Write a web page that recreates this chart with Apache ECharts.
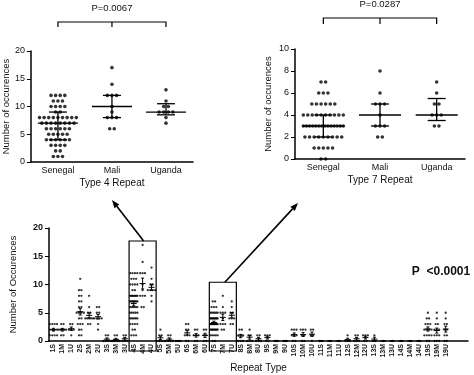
<!DOCTYPE html>
<html>
<head>
<meta charset="utf-8">
<script src="https://cdn.jsdelivr.net/npm/echarts@6/dist/echarts.min.js"></script>
<style>
  html, body { margin: 0; background: #fff; }
  #main { width: 474px; height: 375px; }
</style>
</head>
<body>
<div id="main"></div>
<script>
// ---- top charts: countries ----
const countries = ['Senegal', 'Mali', 'Uganda']

// Type 4 repeat, number of occurences per isolate
const t4Senegal = [12, 12, 12, 12, 11, 11, 11, 10, 10, 10, 10, 9, 9,
  8, 8, 8, 8, 8, 8, 8, 8, 8, 7, 7, 7, 7, 7, 7, 7, 7, 6, 6, 6, 6, 6, 6,
  5, 5, 5, 5, 5, 4, 4, 4, 4, 4, 4, 3, 3, 3, 3, 2, 2, 1, 1, 1]
const t4Mali = [17, 14, 12, 12, 12, 10, 9, 8, 8, 8, 6, 6]
const t4Uganda = [13, 11, 10, 10, 9, 9, 9, 9, 8, 7]
const t4Mid = [7, 10, 9]
const t4Low = [4, 8, 8.5]
const t4High = [9, 12, 10.5]

// Type 7 repeat
const t7Senegal = [7, 7, 6, 6, 6, 5, 5, 5, 5, 5, 5, 4, 4, 4, 4, 4, 4, 4, 4, 4, 4,
  3, 3, 3, 3, 3, 3, 3, 3, 3, 3, 3, 3, 3, 3, 2, 2, 2, 2, 2, 2, 2, 2, 2,
  1, 1, 1, 1, 1, 0, 0]
const t7Mali = [8, 6, 5, 5, 5, 4, 3, 3, 3, 2, 2]
const t7Uganda = [7, 6, 5, 5, 4, 4, 4, 3, 3]
const t7Mid = [3, 4, 4]
const t7Low = [2, 3, 3.5]
const t7High = [4, 5, 5.5]

// ---- bottom chart: every repeat type ----
const repeatTypes = ['1S', '1M', '1U', '2S', '2M', '2U', '3S', '3M', '3U',
  '4S', '4M', '4U', '5S', '5M', '5U', '6S', '6M', '6U', '7S', '7M', '7U',
  '8S', '8M', '8U', '9S', '9M', '9U', '10S', '10M', '10U', '11S', '11M', '11U',
  '12S', '12M', '12U', '13S', '13M', '13U', '14S', '14M', '14U', '19S', '19M', '19U']
const repeatValues = [
  [3, 3, 3, 3, 2, 2, 2, 2, 1, 1, 1, 1],          // 1S
  [3, 3, 2, 2, 2, 2, 2, 1, 1],                   // 1M
  [3, 3, 2, 2, 2, 1],                            // 1U
  [11, 9, 9, 8, 8, 7, 7, 6, 6, 5, 5, 5, 5, 4, 4, 3, 3, 3, 2, 2, 1, 1], // 2S
  [8, 6, 5, 5, 4, 4, 4, 4, 4, 3, 3],             // 2M
  [6, 6, 5, 5, 4, 4, 4, 4, 3, 2],                // 2U
  [1, 1, 0, 0, 0, 0],                            // 3S
  [1, 1, 0, 0, 0, 0, 0],                         // 3M
  [1, 1, 0, 0, 0],                               // 3U
  t4Senegal, t4Mali, t4Uganda,                   // 4S 4M 4U
  [2, 1, 1, 0, 0, 0, 0],                         // 5S
  [1, 1, 0, 0, 0, 0],                            // 5M
  [0, 0, 0],                                     // 5U
  [3, 3, 2, 2, 1, 1, 1, 0, 0],                   // 6S
  [2, 2, 1, 1, 1, 0, 0],                         // 6M
  [2, 2, 1, 1, 0, 0],                            // 6U
  t7Senegal, t7Mali, t7Uganda,                   // 7S 7M 7U
  [2, 2, 1, 1, 1, 0, 0, 0],                      // 8S
  [2, 1, 1, 0, 0, 0],                            // 8M
  [1, 1, 0, 0, 0],                               // 8U
  [1, 1, 1, 0, 0],                               // 9S
  [0, 0],                                        // 9M
  [0, 0],                                        // 9U
  [2, 2, 2, 1, 1, 1, 0, 0],                      // 10S
  [2, 2, 2, 1, 1, 0, 0],                         // 10M
  [2, 2, 1, 1, 0],                               // 10U
  [0, 0], [0], [0],                              // 11S 11M 11U
  [1, 0, 0, 0],                                  // 12S
  [1, 1, 0, 0, 0],                               // 12M
  [1, 1, 1, 0, 0],                               // 12U
  [1, 0, 0],                                     // 13S
  [0], [0], [0], [0], [0],                       // 13M 13U 14S 14M 14U
  [5, 4, 4, 3, 3, 3, 2, 2, 2, 2, 1, 1, 1, 1, 0, 0], // 19S
  [5, 4, 3, 3, 2, 2, 2, 1, 1, 1, 0, 0, 0],       // 19M
  [5, 4, 3, 3, 2, 2, 1, 1, 0, 0]                 // 19U
]

const FONT = 'Liberation Sans, Arial, sans-serif'
const INK = '#111'

// spread dots that share a value side by side
function dotData(groups, spacing, maxW) {
  const out = []
  groups.forEach((vals, ci) => {
    const counts = {}
    vals.forEach(v => { counts[v] = (counts[v] || 0) + 1 })
    const seen = {}
    vals.forEach(v => {
      const n = counts[v]
      const k = seen[v] || 0
      seen[v] = k + 1
      let s = spacing
      if (maxW && n > 1) s = Math.min(spacing, maxW / (n - 1))
      out.push({ value: [ci, v], symbolOffset: [(k - (n - 1) / 2) * s, 0] })
    })
  })
  return out
}

function meanSem(vals) {
  const n = vals.length
  const m = vals.reduce((a, b) => a + b, 0) / n
  if (n < 2) return [m, m, m]
  const sd = Math.sqrt(vals.reduce((a, b) => a + (b - m) * (b - m), 0) / (n - 1))
  const se = sd / Math.sqrt(n)
  return [m, m - se, m + se]
}

function barRenderer(meanW, capW, lw) {
  return function (params, api) {
    const x = api.value(0)
    const m = api.coord([x, api.value(1)])
    const lo = api.coord([x, api.value(2)])
    const hi = api.coord([x, api.value(3)])
    const st = { stroke: '#000', lineWidth: lw }
    return {
      type: 'group',
      children: [
        { type: 'line', shape: { x1: m[0] - meanW / 2, y1: m[1], x2: m[0] + meanW / 2, y2: m[1] }, style: st },
        { type: 'line', shape: { x1: lo[0], y1: lo[1], x2: hi[0], y2: hi[1] }, style: st },
        { type: 'line', shape: { x1: lo[0] - capW / 2, y1: lo[1], x2: lo[0] + capW / 2, y2: lo[1] }, style: st },
        { type: 'line', shape: { x1: hi[0] - capW / 2, y1: hi[1], x2: hi[0] + capW / 2, y2: hi[1] }, style: st }
      ]
    }
  }
}

function catAxis(gi, data, name, nameGap, extra) {
  return Object.assign({
    type: 'category', gridIndex: gi, data: data,
    name: name, nameLocation: 'middle', nameGap: nameGap,
    nameTextStyle: { fontFamily: FONT, fontSize: 10, color: INK },
    axisLine: { lineStyle: { color: '#000', width: 1.5 } },
    axisTick: { alignWithLabel: true, length: 3, lineStyle: { color: '#000' } },
    axisLabel: { fontFamily: FONT, fontSize: 9, color: INK, margin: 4, interval: 0 },
    splitLine: { show: false }
  }, extra || {})
}

function valAxis(gi, max, interval, name, nameGap, extra) {
  return Object.assign({
    type: 'value', gridIndex: gi, min: 0, max: max, interval: interval,
    name: name, nameLocation: 'middle', nameGap: nameGap,
    nameTextStyle: { fontFamily: FONT, fontSize: 9.5, color: INK },
    axisLine: { show: true, lineStyle: { color: '#000', width: 1.5 } },
    axisTick: { show: true, length: 4, lineStyle: { color: '#000' } },
    axisLabel: { fontFamily: FONT, fontSize: 9, color: INK, margin: 6 },
    splitLine: { show: false }
  }, extra || {})
}

const t4Bars = countries.map((c, i) => [i, t4Mid[i], t4Low[i], t4High[i]])
const t7Bars = countries.map((c, i) => [i, t7Mid[i], t7Low[i], t7High[i]])
const repeatBars = repeatValues.map((vals, i) => [i].concat(meanSem(vals)))
const repeatAxisData = repeatTypes.concat(['', ''])

const chart = echarts.init(document.getElementById('main'))
chart.setOption({
  backgroundColor: '#fff',
  animation: false,
  grid: [
    { left: 30, top: 51, width: 163, height: 111 },
    { left: 295, top: 49, width: 170, height: 110 },
    { left: 40, top: 228, width: 428, height: 113 }
  ],
  xAxis: [
    catAxis(0, countries, 'Type 4 Repeat', 16),
    catAxis(1, countries, 'Type 7 Repeat', 16),
    catAxis(2, repeatAxisData, 'Repeat Type', 22, {
      axisTick: { alignWithLabel: true, length: 3, lineStyle: { color: '#000' },
        interval: (i, v) => v !== '' },
      axisLabel: { fontFamily: FONT, fontSize: 7, fontWeight: 'bold', color: INK,
        margin: 3, interval: 0, rotate: 90 }
    })
  ],
  yAxis: [
    valAxis(0, 20, 5, 'Number of occurences', 19),
    valAxis(1, 10, 2, 'Number of occurences', 22),
    valAxis(2, 20, 5, 'Number of Occurences', 31, {
      axisLabel: { fontFamily: FONT, fontSize: 9, fontWeight: 'bold', color: INK, margin: 6 }
    })
  ],
  series: [
    { type: 'scatter', xAxisIndex: 0, yAxisIndex: 0, symbolSize: 3.6,
      itemStyle: { color: '#000' }, data: dotData([t4Senegal, t4Mali, t4Uganda], 4.6, 40) },
    { type: 'custom', xAxisIndex: 0, yAxisIndex: 0, renderItem: barRenderer(40, 18, 1.3),
      data: t4Bars, z: 3 },
    { type: 'scatter', xAxisIndex: 1, yAxisIndex: 1, symbolSize: 3.6,
      itemStyle: { color: '#000' }, data: dotData([t7Senegal, t7Mali, t7Uganda], 4.6, 40) },
    { type: 'custom', xAxisIndex: 1, yAxisIndex: 1, renderItem: barRenderer(42, 18, 1.3),
      data: t7Bars, z: 3 },
    { type: 'scatter', xAxisIndex: 2, yAxisIndex: 2, symbolSize: 2.3,
      itemStyle: { color: '#000' }, data: dotData(repeatValues, 2.4, 7.5) },
    { type: 'custom', xAxisIndex: 2, yAxisIndex: 2, renderItem: barRenderer(6, 3, 1),
      data: repeatBars, z: 3 }
  ]
})

// annotations: brackets, boxes, arrows and p-values
const px = (gi, pt) => chart.convertToPixel({ xAxisIndex: gi, yAxisIndex: gi }, pt)

function bracket(gi, y, drop) {
  const a = px(gi, [0, 0])[0], b = px(gi, [1, 0])[0], c = px(gi, [2, 0])[0]
  const st = { stroke: '#000', lineWidth: 1.2, fill: null }
  return [
    { type: 'polyline', shape: { points: [[a, y + drop], [a, y], [c, y], [c, y + drop]] }, style: st },
    { type: 'line', shape: { x1: b, y1: y, x2: b, y2: y + drop }, style: st }
  ]
}

function box(first, last, topVal) {
  const l = px(2, [first, topVal])
  const r = px(2, [last, 0])
  const half = 4.6
  return { type: 'rect', shape: { x: l[0] - half, y: l[1], width: r[0] - l[0] + 2 * half, height: r[1] + 10 - l[1] },
    style: { stroke: '#000', lineWidth: 1.2, fill: null } }
}

function arrow(x1, y1, x2, y2) {
  const len = Math.hypot(x2 - x1, y2 - y1)
  const ux = (x2 - x1) / len, uy = (y2 - y1) / len
  const L = 8, W = 6
  const bx = x2 - ux * L, by = y2 - uy * L
  return [
    { type: 'line', shape: { x1: x1, y1: y1, x2: bx, y2: by }, style: { stroke: '#000', lineWidth: 1.6 } },
    { type: 'polygon', shape: { points: [[x2, y2], [bx - uy * W / 2, by + ux * W / 2], [bx + uy * W / 2, by - ux * W / 2]] },
      style: { fill: '#000' } }
  ]
}

const i4S = repeatTypes.indexOf('4S'), i4M = repeatTypes.indexOf('4M'), i4U = repeatTypes.indexOf('4U')
const i7S = repeatTypes.indexOf('7S'), i7M = repeatTypes.indexOf('7M'), i7U = repeatTypes.indexOf('7U')
const box4Top = px(2, [i4M, 17.7])
const box7Top = px(2, [i7M, 10.4])
const maliTop = px(0, [1, 0])

const tl = px(0, [1, 0])[0]
const tr = px(1, [1, 0])[0]

const graphics = [].concat(
  bracket(0, 22, 5),
  bracket(1, 18, 6),
  [box(i4S, i4U, 17.7), box(i7S, i7U, 10.4)],
  arrow(box4Top[0] + 1, box4Top[1], maliTop[0], 200),
  arrow(box7Top[0] + 2, box7Top[1], 298, 203),
  [
    { type: 'text', x: tl, y: 8, style: { text: 'P=0.0067', font: '9.5px ' + FONT, fill: INK, align: 'center', verticalAlign: 'middle' } },
    { type: 'text', x: tr, y: 4, style: { text: 'P=0.0287', font: '9.5px ' + FONT, fill: INK, align: 'center', verticalAlign: 'middle' } },
    { type: 'text', x: 441, y: 272, style: { text: 'P  <0.0001', font: 'bold 12px ' + FONT, fill: INK, align: 'center', verticalAlign: 'middle' } }
  ]
)
chart.setOption({ graphic: graphics })
</script>
</body>
</html>
